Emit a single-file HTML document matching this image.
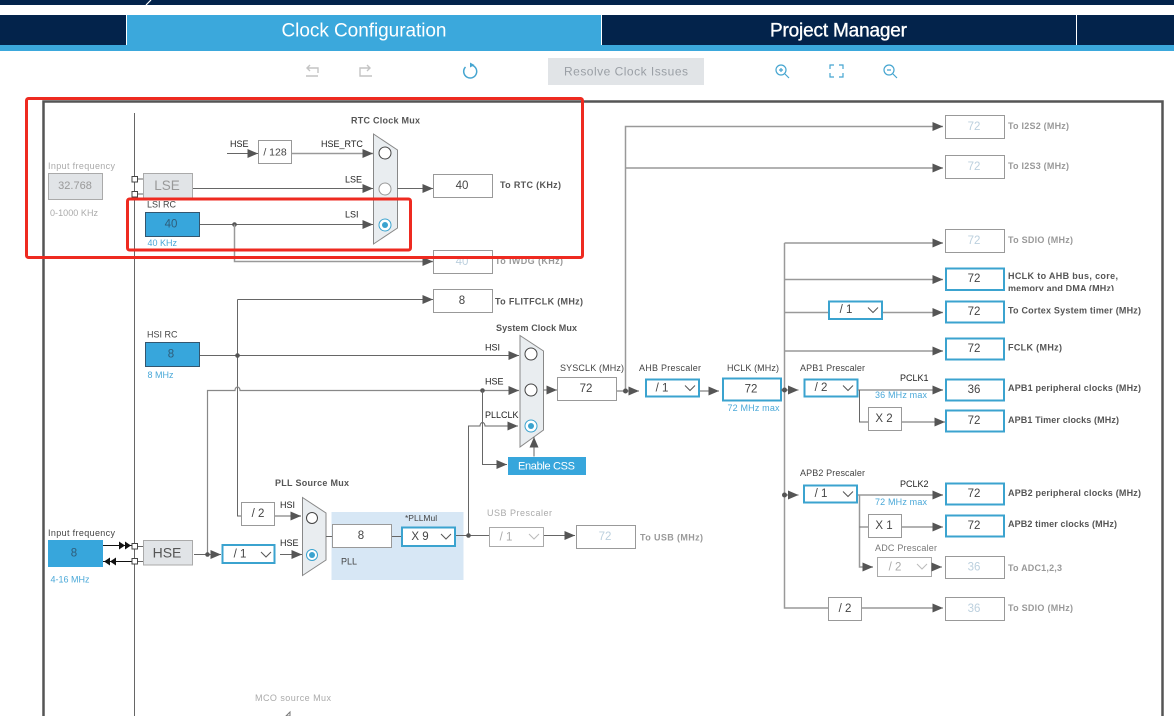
<!DOCTYPE html>
<html><head><meta charset="utf-8"><style>
html,body{margin:0;padding:0;background:#fff;width:1174px;height:716px;overflow:hidden}
svg{display:block}
text{font-family:"Liberation Sans",sans-serif;font-size:9px;fill:#555;dominant-baseline:central}
.l{fill:#444}.d{fill:#222}.g{fill:#aaa}.b{fill:#4aa8d8;font-size:9px}
.t{font-weight:bold;fill:#555}.tg{fill:#999;font-weight:bold}
.n{font-size:11.5px;fill:#444;text-anchor:middle}.nl{font-size:11.5px;fill:#bcd0de;text-anchor:middle}
.w{stroke:#666;stroke-width:1;fill:none}.wl{stroke:#999;stroke-width:1.5;fill:none}
.box{fill:#fff;stroke:#999;stroke-width:1}.bb{fill:#fff;stroke:#3ba3cf;stroke-width:2}
.sg{fill:#fff;stroke:#aaa;stroke-width:1}
.ch{fill:none;stroke:#555;stroke-width:1}
.mux{fill:#e9edf0;stroke:#888;stroke-width:1}
.c{fill:#fff;stroke:#444;stroke-width:1}.cg{fill:#fff;stroke:#999;stroke-width:1}
.icon{fill:none;stroke:#45a5d0;stroke-width:1.2}.ig{fill:none;stroke:#c4c4c4;stroke-width:1.4}
</style></head><body>
<svg width="1174" height="716" viewBox="0 0 1174 716" xmlns="http://www.w3.org/2000/svg">
<defs>
<marker id="a" markerUnits="userSpaceOnUse" markerWidth="12" markerHeight="10" refX="10.500" refY="5" orient="auto"><path d="M0 0.500L10.500 5L0 9.500Z" fill="#555"/></marker>
</defs>
<!-- header -->
<rect x="0" y="0" width="1174" height="5" fill="#03234b"/>
<path d="M146 5L151 0" stroke="#fff" stroke-width="1.2"/>
<rect x="0" y="15" width="1174" height="30" fill="#03234b"/>
<rect x="0" y="45" width="1174" height="6" fill="#3ba8dc"/>
<rect x="127" y="15" width="474" height="36" fill="#3ba8dc"/>
<rect x="126" y="15" width="1" height="30" fill="#fff"/>
<rect x="601" y="15" width="1" height="30" fill="#fff"/>
<rect x="1076" y="15" width="1" height="30" fill="#fff"/>
<text x="364" y="31" text-anchor="middle" style="font-size:19px;fill:#fff" textLength="165">Clock Configuration</text>
<text x="838.500" y="31" text-anchor="middle" style="font-size:19px;fill:#fff;stroke:#fff;stroke-width:.35" textLength="137">Project Manager</text>
<!-- toolbar -->
<path class="ig" d="M310 65l-3 3 3 3M307 68h11v5M306 76h12"/>
<path class="ig" d="M367 65l3 3-3 3M370 68h-10v8h12"/>
<path class="icon" style="stroke-width:1.500" d="M465.500 67a6.500 6.500 0 1 0 5-2"/><path d="M470 62.500l4.500 2.500-4.500 2.500Z" fill="#45a5d0"/>
<rect x="548" y="58" width="156" height="27" fill="#e1e4e7"/>
<text x="626" y="71.500" text-anchor="middle" style="font-size:12px;fill:#9a9fa5" textLength="124">Resolve Clock Issues</text>
<circle class="icon" cx="781" cy="70" r="5"/><path class="icon" d="M785 74l4 4M779 70h4M781 68v4"/>
<path class="icon" d="M830 69v-4h4M839 65h4v4M843 73v4h-4M834 77h-4v-4"/>
<circle class="icon" cx="889" cy="70" r="5"/><path class="icon" d="M893 74l4 4M887 70h4"/>
<!-- frame -->
<path d="M43.500 716V101.500H1162.500V716" fill="none" stroke="#555" stroke-width="2.500"/>
<path d="M134.500 113V716" stroke="#666" stroke-width="1"/>

<!-- RTC -->
<text class="t" x="351" y="120.500" textLength="69">RTC Clock Mux</text>
<text class="d" x="230" y="144">HSE</text>
<path class="w" d="M227 153.500H258" marker-end="url(#a)"/>
<rect class="box" x="258.500" y="140.500" width="33" height="23"/>
<text class="n" x="275" y="152.500" style="font-size:10.500px">/ 128</text>
<text class="d" x="321" y="144">HSE_RTC</text>
<path class="wl" d="M291.500 153.500H373" marker-end="url(#a)"/>
<path class="mux" d="M373.500 134L397.500 150V228L373.500 244Z"/>
<circle class="c" cx="385" cy="153" r="6"/><circle class="cg" cx="385" cy="189" r="6"/><circle class="c" style="stroke:#3ba3cf" cx="385" cy="225" r="6"/><circle cx="385" cy="225" r="3" fill="#3ba3cf"/>

<text class="g" x="48" y="166" textLength="67">Input frequency</text>
<rect x="48.500" y="173.500" width="54" height="26" fill="#e1e4e7" stroke="#aaa"/>
<text x="75" y="186" text-anchor="middle" style="font-size:11px;fill:#999">32.768</text>
<text class="g" x="50" y="213" textLength="48">0-1000 KHz</text>
<path d="M134.500 179H143M134.500 194H143" stroke="#666"/>
<rect x="132" y="176.500" width="5.500" height="5.500" fill="#fff" stroke="#444"/><rect x="132" y="191.500" width="5.500" height="5.500" fill="#fff" stroke="#444"/>
<rect x="143.500" y="173.500" width="49" height="24.500" fill="#e1e4e7" stroke="#aaa"/>
<text x="167" y="185.500" text-anchor="middle" style="font-size:13.500px;fill:#999">LSE</text>
<path class="w" d="M193 188.500H373" marker-end="url(#a)"/>
<text class="d" x="345" y="179.500">LSE</text>
<path class="w" d="M397.500 188.500H433" marker-end="url(#a)"/>
<rect class="box" x="433.500" y="174.500" width="59" height="23"/>
<text class="n" x="462" y="186">40</text>
<text class="t" x="500" y="185" textLength="61">To RTC (KHz)</text>

<text class="l" x="147" y="204.500">LSI RC</text>
<rect x="145.500" y="212.500" width="54" height="24" fill="#37a6dc" stroke="#33566f"/>
<text class="n" x="171" y="224.500" style="fill:#2f5d7a">40</text>
<text class="b" x="147.500" y="243">40 KHz</text>
<path class="w" d="M200 224.500H373" marker-end="url(#a)"/>
<circle cx="234.500" cy="224.500" r="2.300" fill="#555"/>
<text class="d" x="345" y="214.500">LSI</text>
<path class="wl" d="M234.500 224.500V261.500H433" marker-end="url(#a)"/>
<rect class="box" x="433.500" y="250.500" width="59" height="23"/>
<text class="nl" x="462" y="262">40</text>
<text class="tg" x="495" y="261" textLength="68">To IWDG (KHz)</text>

<!-- HSI / FLIT -->
<path class="w" d="M237.500 299.500H433" marker-end="url(#a)"/>
<path class="w" d="M241 516H237.500V299.500"/>
<rect class="box" x="433.500" y="289.500" width="59" height="23"/>
<text class="n" x="462" y="301">8</text>
<text class="t" x="495" y="301.500" textLength="88">To FLITFCLK (MHz)</text>
<text class="l" x="147" y="334.500">HSI RC</text>
<rect x="145.500" y="342.500" width="54" height="24" fill="#37a6dc" stroke="#33566f"/>
<text class="n" x="171" y="354.500" style="fill:#2f5d7a">8</text>
<text class="b" x="147.500" y="375">8 MHz</text>
<path class="w" d="M200 355.500H519" marker-end="url(#a)"/>
<circle cx="237.500" cy="355.500" r="2.300" fill="#555"/>
<text class="d" x="485" y="347.500">HSI</text>
<path class="wl" style="stroke:#888;stroke-width:1.200" d="M207.500 554.500V390.500H235a2.500 3.500 0 0 1 5 0H519" marker-end="url(#a)"/>
<circle cx="482.500" cy="390.500" r="2.300" fill="#555"/>
<text class="d" x="485" y="381.500">HSE</text>
<path class="w" d="M482.500 390.500V464.500H507" marker-end="url(#a)"/>
<path class="w" d="M468.500 535.500V426H480a2.500 3.500 0 0 1 5 0H518" marker-end="url(#a)"/>
<text class="d" x="485" y="415">PLLCLK</text>
<text class="t" x="496" y="328" textLength="81">System Clock Mux</text>
<path class="mux" d="M520 335.500L543.500 351V430L520 447Z"/>
<circle class="c" cx="531" cy="354" r="6"/><circle class="c" cx="531" cy="390" r="6"/><circle class="c" style="stroke:#3ba3cf" cx="531" cy="426" r="6"/><circle cx="531" cy="426" r="3" fill="#3ba3cf"/>
<path class="w" d="M534 456.500V437" marker-end="url(#a)"/>
<rect x="508" y="457" width="78" height="18" fill="#37a6dc"/>
<text x="546.500" y="466.500" text-anchor="middle" style="font-size:11px;fill:#fff" textLength="57">Enable CSS</text>
<path class="w" d="M543.500 390H557" marker-end="url(#a)"/>
<text class="l" x="560" y="368" textLength="64">SYSCLK (MHz)</text>
<rect class="box" x="557.500" y="377.500" width="59" height="23"/>
<text class="n" x="586" y="389">72</text>

<!-- PLL -->
<rect x="331.500" y="512" width="132" height="68" fill="#d7e7f5"/>
<text class="t" x="275" y="483" textLength="74">PLL Source Mux</text>
<rect class="box" x="241.500" y="502.500" width="33" height="23"/>
<text class="n" x="258" y="514">/ 2</text>
<text class="d" x="280" y="505">HSI</text>
<path class="wl" d="M275 516H301" marker-end="url(#a)"/>
<text class="d" x="280" y="543">HSE</text>
<path class="w" d="M280 554.500H302" marker-end="url(#a)"/>
<path class="mux" d="M302.500 497.500L326 513V560L302.500 575.500Z"/>
<circle class="c" cx="312" cy="518" r="5.500"/><circle class="c" style="stroke:#3ba3cf" cx="312" cy="555" r="5.500"/><circle cx="312" cy="555" r="3" fill="#3ba3cf"/>
<path class="w" d="M326 536.500H332M392 536.500H401.500"/>
<rect class="box" x="332.500" y="524.500" width="59" height="23"/>
<text class="n" x="361" y="536">8</text>
<text class="l" x="405" y="518" style="font-size:8.500px">*PLLMul</text>
<rect class="bb" x="402" y="527.500" width="53" height="18.500"/>
<text class="n" x="420" y="537">X 9</text><path class="ch" d="M441 534l5 5 5-5"/>
<text class="l" x="341" y="561.500">PLL</text>
<path class="w" d="M456 535.500H489"/>
<circle cx="468.500" cy="535.500" r="2.300" fill="#555"/>
<text class="g" x="487" y="513" textLength="65">USB Prescaler</text>
<rect class="sg" x="489.500" y="527.500" width="54" height="19"/>
<text class="n" x="506" y="537.500" style="fill:#aaa">/ 1</text><path class="ch" style="stroke:#bbb" d="M529 534l5 5 5-5"/>
<path class="w" d="M544 535.500H575" marker-end="url(#a)"/>
<rect class="box" x="576.500" y="525.500" width="59" height="23"/>
<text class="nl" x="605" y="537">72</text>
<text class="tg" x="640" y="537.500" textLength="63">To USB (MHz)</text>

<!-- HSE input -->
<text class="l" x="48" y="533" textLength="67">Input frequency</text>
<rect x="48" y="540" width="55" height="27" fill="#37a6dc"/>
<text class="n" x="74" y="553.500" style="fill:#2f5d7a">8</text>
<text class="b" x="50.500" y="579.500">4-16 MHz</text>
<path d="M103 545.500H134M134 561.500H103" stroke="#111"/>
<path d="M119 541.500l6 4-6 4ZM125 541.500l6 4-6 4ZM116 557.500l-6 4 6 4ZM110 557.500l-6 4 6 4Z" fill="#111"/>
<path d="M134.500 546.500H143M134.500 561.500H143" stroke="#666"/>
<rect x="132" y="543.500" width="5.500" height="5.500" fill="#fff" stroke="#444"/><rect x="132" y="558.500" width="5.500" height="5.500" fill="#fff" stroke="#444"/>
<rect x="143.500" y="540.500" width="49" height="24.500" fill="#e1e4e7" stroke="#aaa"/>
<text x="167" y="552.500" text-anchor="middle" style="font-size:14px;fill:#555">HSE</text>
<path class="w" d="M194 554.500H221" marker-end="url(#a)"/>
<circle cx="207.500" cy="554.500" r="2.300" fill="#555"/>
<rect class="bb" x="222.500" y="545" width="52" height="18"/>
<text class="n" x="240" y="554.500">/ 1</text><path class="ch" d="M261 552l5 5 5-5"/>
<text class="g" x="255" y="698" textLength="76">MCO source Mux</text>
<path d="M290 712l-4 4h4Z" fill="none" stroke="#777"/>

<!-- SYSCLK to right -->
<path class="wl" d="M625.500 391V126.500H943" marker-end="url(#a)"/>
<path class="wl" d="M625.500 168H943" marker-end="url(#a)"/>
<path class="w" d="M617 391H639" marker-end="url(#a)"/>
<circle cx="625.500" cy="391" r="2.500" fill="#555"/>
<text class="l" x="639" y="368" textLength="62">AHB Prescaler</text>
<rect class="bb" x="646" y="379.500" width="53" height="17"/>
<text class="n" x="662" y="388.500">/ 1</text><path class="ch" d="M685 385.500l5 5 5-5"/>
<path class="w" d="M700 391H719" marker-end="url(#a)"/>
<text class="l" x="727" y="368" textLength="52">HCLK (MHz)</text>
<rect class="bb" x="723" y="378.500" width="58" height="22"/>
<text class="n" x="751" y="389.500">72</text>
<text class="b" x="727.500" y="408" textLength="52">72 MHz max</text>

<path class="wl" d="M784.500 243V608H828"/>
<path class="wl" d="M784.500 243H943" marker-end="url(#a)"/>
<path class="wl" d="M784.500 279.500H943" marker-end="url(#a)"/>
<path class="wl" d="M784.500 312.500H828M883 312.500H943" marker-end="url(#a)"/>
<path class="wl" d="M784.500 351H943" marker-end="url(#a)"/>
<path class="w" d="M781 390H798.500" marker-end="url(#a)"/>
<circle cx="784.500" cy="390" r="2.500" fill="#555"/>
<path class="w" d="M784.500 495H798.500" marker-end="url(#a)"/>
<circle cx="784.500" cy="495" r="2.500" fill="#555"/>

<rect class="box" x="945.500" y="115.500" width="59" height="23"/>
<text class="nl" x="974" y="127">72</text>
<text class="tg" x="1008" y="126" textLength="61">To I2S2 (MHz)</text>
<rect class="box" x="945.500" y="155.500" width="59" height="23"/>
<text class="nl" x="974" y="167">72</text>
<text class="tg" x="1008" y="166" textLength="61">To I2S3 (MHz)</text>
<rect class="box" x="945.500" y="229.500" width="59" height="23"/>
<text class="nl" x="974" y="241">72</text>
<text class="tg" x="1008" y="240" textLength="65">To SDIO (MHz)</text>

<rect class="bb" x="946" y="268.500" width="58" height="21.500"/>
<text class="n" x="974" y="279">72</text>
<text class="t" x="1008" y="276" textLength="110">HCLK to AHB bus, core,</text>
<text class="t" x="1008" y="288.500" textLength="106">memory and DMA (MHz)</text>
<rect x="1006" y="291" width="140" height="6" fill="#fff"/>
<rect class="bb" x="946" y="301.500" width="58" height="21"/>
<text class="n" x="974" y="312">72</text>
<text class="t" x="1008" y="310.500" textLength="133">To Cortex System timer (MHz)</text>
<rect class="bb" x="829" y="301.500" width="53" height="17.500"/>
<text class="n" x="846" y="310">/ 1</text><path class="ch" d="M868 307.500l5 5 5-5"/>
<rect class="bb" x="946" y="338.500" width="58" height="21"/>
<text class="n" x="974" y="349">72</text>
<text class="t" x="1008" y="347.500" textLength="54">FCLK (MHz)</text>

<!-- APB1 -->
<text class="l" x="800" y="368" textLength="65">APB1 Prescaler</text>
<rect class="bb" x="804.500" y="379.500" width="53" height="17"/>
<text class="n" x="821" y="388">/ 2</text><path class="ch" d="M843 385.500l5 5 5-5"/>
<path class="wl" d="M858 390H943" marker-end="url(#a)"/>
<text class="d" x="900" y="378">PCLK1</text>
<text class="b" x="875" y="395" textLength="52">36 MHz max</text>
<rect class="bb" x="946" y="379.500" width="58" height="21"/>
<text class="n" x="974" y="390">36</text>
<text class="t" x="1008" y="388" textLength="133">APB1 peripheral clocks (MHz)</text>
<path class="w" d="M859.500 390V422H868"/>
<rect class="box" x="868.500" y="407.500" width="33" height="23"/>
<text class="n" x="884" y="419">X 2</text>
<path class="w" d="M902 422H945" marker-end="url(#a)"/>
<rect class="bb" x="946" y="410.500" width="58" height="21"/>
<text class="n" x="974" y="421">72</text>
<text class="t" x="1008" y="420" textLength="111">APB1 Timer clocks (MHz)</text>

<!-- APB2 -->
<text class="l" x="800" y="473" textLength="65">APB2 Prescaler</text>
<rect class="bb" x="804" y="485.500" width="53" height="17"/>
<text class="n" x="821" y="494">/ 1</text><path class="ch" d="M843 491.500l5 5 5-5"/>
<path class="wl" d="M858 495H943" marker-end="url(#a)"/>
<text class="d" x="900" y="484">PCLK2</text>
<text class="b" x="875" y="502" textLength="52">72 MHz max</text>
<rect class="bb" x="946" y="483.500" width="58" height="21"/>
<text class="n" x="974" y="494">72</text>
<text class="t" x="1008" y="493" textLength="133">APB2 peripheral clocks (MHz)</text>
<path class="wl" d="M859.500 495V567H873" marker-end="url(#a)"/>
<path class="w" d="M859.500 527H868"/>
<rect class="box" x="868.500" y="514.500" width="33" height="23"/>
<text class="n" x="884" y="526">X 1</text>
<path class="w" d="M902 527H943" marker-end="url(#a)"/>
<rect class="bb" x="946" y="515.500" width="58" height="21"/>
<text class="n" x="974" y="526">72</text>
<text class="t" x="1008" y="524" textLength="109">APB2 timer clocks (MHz)</text>
<text class="l" x="875" y="548" textLength="62" style="fill:#777">ADC Prescaler</text>
<rect class="sg" x="877.500" y="557.500" width="54" height="19"/>
<text class="n" x="895" y="567.500" style="fill:#aaa">/ 2</text><path class="ch" style="stroke:#bbb" d="M917 564l5 5 5-5"/>
<path class="w" d="M932 567H942" marker-end="url(#a)"/>
<rect class="box" x="945.500" y="556.500" width="59" height="22"/>
<text class="nl" x="974" y="567.500">36</text>
<text class="tg" x="1008" y="568" textLength="54">To ADC1,2,3</text>
<rect class="box" x="828.500" y="597.500" width="33" height="23"/>
<text class="n" x="845" y="609">/ 2</text>
<path class="w" d="M862 608H943" marker-end="url(#a)"/>
<rect class="box" x="945.500" y="597.500" width="59" height="23"/>
<text class="nl" x="974" y="609">36</text>
<text class="tg" x="1008" y="608" textLength="65">To SDIO (MHz)</text>

<!-- red highlights -->
<rect x="26.500" y="98.500" width="556" height="159" rx="2" fill="none" stroke="#ee2a20" stroke-width="3"/>
<rect x="127.500" y="199" width="283" height="51" rx="2" fill="none" stroke="#ee2a20" stroke-width="3"/>
</svg>
</body></html>
